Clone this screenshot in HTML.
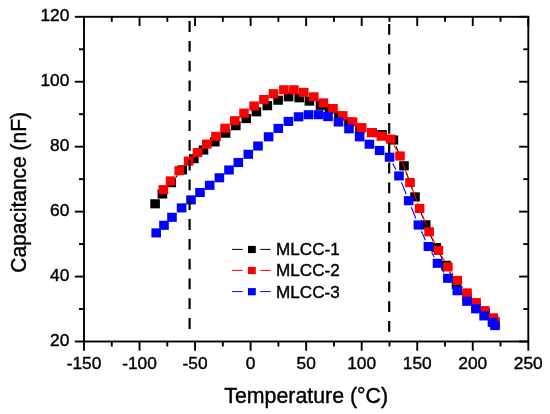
<!DOCTYPE html>
<html><head><meta charset="utf-8"><style>
html,body{margin:0;padding:0;background:#fff;}
svg{display:block;font-family:"Liberation Sans",Arial,sans-serif;}
text{stroke:#000;stroke-width:0.4px;}
</style></head><body>
<svg width="550" height="414" viewBox="0 0 550 414">
<rect width="550" height="414" fill="#fff"/>
<path d="M175.8 177.4L177.6 175.2M187.2 165.0L188.8 163.6M396.1 146.5L401.3 159.3M406.3 172.4L412.7 190.3M417.5 203.4L423.2 218.3M428.6 231.2L433.3 241.2M439.6 253.7L442.6 259.2M449.4 271.4L453.1 278.4M461.0 289.9L462.5 291.6" fill="none" stroke="#000" stroke-width="1.1"/>
<rect x="150.30" y="199.25" width="9.6" height="9.1" fill="#000"/>
<rect x="157.60" y="189.45" width="9.6" height="9.1" fill="#000"/>
<rect x="166.40" y="178.15" width="9.6" height="9.1" fill="#000"/>
<rect x="177.40" y="165.35" width="9.6" height="9.1" fill="#000"/>
<rect x="189.00" y="154.15" width="9.6" height="9.1" fill="#000"/>
<rect x="198.70" y="145.45" width="9.6" height="9.1" fill="#000"/>
<rect x="210.00" y="137.35" width="9.6" height="9.1" fill="#000"/>
<rect x="220.80" y="128.65" width="9.6" height="9.1" fill="#000"/>
<rect x="231.00" y="121.15" width="9.6" height="9.1" fill="#000"/>
<rect x="241.40" y="114.05" width="9.6" height="9.1" fill="#000"/>
<rect x="251.60" y="107.25" width="9.6" height="9.1" fill="#000"/>
<rect x="262.50" y="101.15" width="9.6" height="9.1" fill="#000"/>
<rect x="273.30" y="95.65" width="9.6" height="9.1" fill="#000"/>
<rect x="283.80" y="92.25" width="9.6" height="9.1" fill="#000"/>
<rect x="294.40" y="93.25" width="9.6" height="9.1" fill="#000"/>
<rect x="304.60" y="96.55" width="9.6" height="9.1" fill="#000"/>
<rect x="315.70" y="100.75" width="9.6" height="9.1" fill="#000"/>
<rect x="324.70" y="104.45" width="9.6" height="9.1" fill="#000"/>
<rect x="334.20" y="111.45" width="9.6" height="9.1" fill="#000"/>
<rect x="344.20" y="117.45" width="9.6" height="9.1" fill="#000"/>
<rect x="355.20" y="123.95" width="9.6" height="9.1" fill="#000"/>
<rect x="367.20" y="128.05" width="9.6" height="9.1" fill="#000"/>
<rect x="377.20" y="130.05" width="9.6" height="9.1" fill="#000"/>
<rect x="388.60" y="135.45" width="9.6" height="9.1" fill="#000"/>
<rect x="399.20" y="161.25" width="9.6" height="9.1" fill="#000"/>
<rect x="410.20" y="192.35" width="9.6" height="9.1" fill="#000"/>
<rect x="420.90" y="220.25" width="9.6" height="9.1" fill="#000"/>
<rect x="431.40" y="243.05" width="9.6" height="9.1" fill="#000"/>
<rect x="441.20" y="260.75" width="9.6" height="9.1" fill="#000"/>
<rect x="451.70" y="279.95" width="9.6" height="9.1" fill="#000"/>
<rect x="462.20" y="292.45" width="9.6" height="9.1" fill="#000"/>
<rect x="471.20" y="300.95" width="9.6" height="9.1" fill="#000"/>
<rect x="480.40" y="308.45" width="9.6" height="9.1" fill="#000"/>
<rect x="488.70" y="314.95" width="9.6" height="9.1" fill="#000"/>
<rect x="490.20" y="318.95" width="9.6" height="9.1" fill="#000"/>
<path d="M394.0 145.2L396.6 149.9M402.5 162.6L407.5 176.0M412.4 189.2L417.2 201.9M422.2 215.0L426.5 225.3M432.2 238.1L435.3 244.1M441.9 256.5L444.4 260.8M451.9 272.6L453.3 274.7M461.6 285.9L462.7 287.4" fill="none" stroke="#f00" stroke-width="1.1"/>
<rect x="158.60" y="185.05" width="9.6" height="9.1" fill="#f00"/>
<rect x="165.80" y="176.35" width="9.6" height="9.1" fill="#f00"/>
<rect x="174.40" y="166.15" width="9.6" height="9.1" fill="#f00"/>
<rect x="183.80" y="156.55" width="9.6" height="9.1" fill="#f00"/>
<rect x="192.70" y="148.05" width="9.6" height="9.1" fill="#f00"/>
<rect x="202.00" y="139.55" width="9.6" height="9.1" fill="#f00"/>
<rect x="211.20" y="131.85" width="9.6" height="9.1" fill="#f00"/>
<rect x="220.30" y="123.65" width="9.6" height="9.1" fill="#f00"/>
<rect x="230.00" y="116.15" width="9.6" height="9.1" fill="#f00"/>
<rect x="239.20" y="108.65" width="9.6" height="9.1" fill="#f00"/>
<rect x="249.30" y="101.45" width="9.6" height="9.1" fill="#f00"/>
<rect x="259.10" y="94.95" width="9.6" height="9.1" fill="#f00"/>
<rect x="268.70" y="89.15" width="9.6" height="9.1" fill="#f00"/>
<rect x="279.10" y="85.25" width="9.6" height="9.1" fill="#f00"/>
<rect x="289.10" y="85.25" width="9.6" height="9.1" fill="#f00"/>
<rect x="299.00" y="87.85" width="9.6" height="9.1" fill="#f00"/>
<rect x="309.00" y="92.25" width="9.6" height="9.1" fill="#f00"/>
<rect x="318.60" y="98.35" width="9.6" height="9.1" fill="#f00"/>
<rect x="328.20" y="103.95" width="9.6" height="9.1" fill="#f00"/>
<rect x="338.00" y="111.15" width="9.6" height="9.1" fill="#f00"/>
<rect x="347.70" y="117.35" width="9.6" height="9.1" fill="#f00"/>
<rect x="356.90" y="123.05" width="9.6" height="9.1" fill="#f00"/>
<rect x="366.80" y="128.05" width="9.6" height="9.1" fill="#f00"/>
<rect x="376.50" y="131.65" width="9.6" height="9.1" fill="#f00"/>
<rect x="385.80" y="134.55" width="9.6" height="9.1" fill="#f00"/>
<rect x="395.20" y="151.45" width="9.6" height="9.1" fill="#f00"/>
<rect x="405.20" y="178.05" width="9.6" height="9.1" fill="#f00"/>
<rect x="414.80" y="203.95" width="9.6" height="9.1" fill="#f00"/>
<rect x="424.30" y="227.25" width="9.6" height="9.1" fill="#f00"/>
<rect x="433.60" y="245.85" width="9.6" height="9.1" fill="#f00"/>
<rect x="443.10" y="262.35" width="9.6" height="9.1" fill="#f00"/>
<rect x="452.50" y="275.85" width="9.6" height="9.1" fill="#f00"/>
<rect x="462.20" y="288.35" width="9.6" height="9.1" fill="#f00"/>
<rect x="471.30" y="298.05" width="9.6" height="9.1" fill="#f00"/>
<rect x="479.90" y="306.05" width="9.6" height="9.1" fill="#f00"/>
<rect x="488.40" y="313.25" width="9.6" height="9.1" fill="#f00"/>
<rect x="490.40" y="317.45" width="9.6" height="9.1" fill="#f00"/>
<path d="M392.7 163.5L395.9 169.6M401.5 182.4L406.2 194.2M411.3 207.2L415.8 218.5M421.4 231.3L425.4 240.2M431.7 252.7L434.2 257.1M441.5 269.1L443.9 272.5M452.1 283.9L453.1 285.1" fill="none" stroke="#00f" stroke-width="1.1"/>
<rect x="151.40" y="228.35" width="9.6" height="9.1" fill="#00f"/>
<rect x="159.20" y="220.75" width="9.6" height="9.1" fill="#00f"/>
<rect x="167.20" y="212.75" width="9.6" height="9.1" fill="#00f"/>
<rect x="176.80" y="203.35" width="9.6" height="9.1" fill="#00f"/>
<rect x="186.20" y="195.35" width="9.6" height="9.1" fill="#00f"/>
<rect x="195.20" y="187.95" width="9.6" height="9.1" fill="#00f"/>
<rect x="204.90" y="180.75" width="9.6" height="9.1" fill="#00f"/>
<rect x="214.60" y="173.25" width="9.6" height="9.1" fill="#00f"/>
<rect x="224.20" y="165.45" width="9.6" height="9.1" fill="#00f"/>
<rect x="233.50" y="157.95" width="9.6" height="9.1" fill="#00f"/>
<rect x="243.50" y="149.75" width="9.6" height="9.1" fill="#00f"/>
<rect x="253.20" y="141.45" width="9.6" height="9.1" fill="#00f"/>
<rect x="263.80" y="132.25" width="9.6" height="9.1" fill="#00f"/>
<rect x="273.50" y="123.85" width="9.6" height="9.1" fill="#00f"/>
<rect x="283.60" y="116.85" width="9.6" height="9.1" fill="#00f"/>
<rect x="293.80" y="112.25" width="9.6" height="9.1" fill="#00f"/>
<rect x="303.70" y="110.15" width="9.6" height="9.1" fill="#00f"/>
<rect x="313.80" y="110.15" width="9.6" height="9.1" fill="#00f"/>
<rect x="323.20" y="112.05" width="9.6" height="9.1" fill="#00f"/>
<rect x="333.70" y="117.45" width="9.6" height="9.1" fill="#00f"/>
<rect x="344.20" y="124.25" width="9.6" height="9.1" fill="#00f"/>
<rect x="354.80" y="132.25" width="9.6" height="9.1" fill="#00f"/>
<rect x="364.60" y="139.65" width="9.6" height="9.1" fill="#00f"/>
<rect x="374.80" y="145.95" width="9.6" height="9.1" fill="#00f"/>
<rect x="384.80" y="152.65" width="9.6" height="9.1" fill="#00f"/>
<rect x="394.20" y="171.35" width="9.6" height="9.1" fill="#00f"/>
<rect x="403.90" y="196.15" width="9.6" height="9.1" fill="#00f"/>
<rect x="413.60" y="220.45" width="9.6" height="9.1" fill="#00f"/>
<rect x="423.60" y="241.95" width="9.6" height="9.1" fill="#00f"/>
<rect x="432.70" y="258.75" width="9.6" height="9.1" fill="#00f"/>
<rect x="443.10" y="273.75" width="9.6" height="9.1" fill="#00f"/>
<rect x="452.50" y="286.15" width="9.6" height="9.1" fill="#00f"/>
<rect x="462.20" y="296.75" width="9.6" height="9.1" fill="#00f"/>
<rect x="471.10" y="304.25" width="9.6" height="9.1" fill="#00f"/>
<rect x="479.30" y="311.35" width="9.6" height="9.1" fill="#00f"/>
<rect x="487.70" y="317.85" width="9.6" height="9.1" fill="#00f"/>
<rect x="490.20" y="321.05" width="9.6" height="9.1" fill="#00f"/>
<line x1="189.6" y1="21.1" x2="189.6" y2="330" stroke="#000" stroke-width="2.2" stroke-dasharray="10.8 9.0"/>
<line x1="389.2" y1="24" x2="389.2" y2="332" stroke="#000" stroke-width="2.2" stroke-dasharray="10.8 9.0"/>
<g stroke="#000" stroke-width="1.9"><rect x="84.0" y="16.8" width="444.3" height="324.7" fill="none" stroke="#000" stroke-width="1.9"/>
<line x1="84.00" y1="341.50" x2="84.00" y2="350.70"/>
<line x1="84.00" y1="16.80" x2="84.00" y2="26.00"/>
<line x1="111.77" y1="341.50" x2="111.77" y2="346.50"/>
<line x1="111.77" y1="16.80" x2="111.77" y2="21.80"/>
<line x1="139.54" y1="341.50" x2="139.54" y2="350.70"/>
<line x1="139.54" y1="16.80" x2="139.54" y2="26.00"/>
<line x1="167.31" y1="341.50" x2="167.31" y2="346.50"/>
<line x1="167.31" y1="16.80" x2="167.31" y2="21.80"/>
<line x1="195.07" y1="341.50" x2="195.07" y2="350.70"/>
<line x1="195.07" y1="16.80" x2="195.07" y2="26.00"/>
<line x1="222.84" y1="341.50" x2="222.84" y2="346.50"/>
<line x1="222.84" y1="16.80" x2="222.84" y2="21.80"/>
<line x1="250.61" y1="341.50" x2="250.61" y2="350.70"/>
<line x1="250.61" y1="16.80" x2="250.61" y2="26.00"/>
<line x1="278.38" y1="341.50" x2="278.38" y2="346.50"/>
<line x1="278.38" y1="16.80" x2="278.38" y2="21.80"/>
<line x1="306.15" y1="341.50" x2="306.15" y2="350.70"/>
<line x1="306.15" y1="16.80" x2="306.15" y2="26.00"/>
<line x1="333.92" y1="341.50" x2="333.92" y2="346.50"/>
<line x1="333.92" y1="16.80" x2="333.92" y2="21.80"/>
<line x1="361.69" y1="341.50" x2="361.69" y2="350.70"/>
<line x1="361.69" y1="16.80" x2="361.69" y2="26.00"/>
<line x1="389.46" y1="341.50" x2="389.46" y2="346.50"/>
<line x1="389.46" y1="16.80" x2="389.46" y2="21.80"/>
<line x1="417.23" y1="341.50" x2="417.23" y2="350.70"/>
<line x1="417.23" y1="16.80" x2="417.23" y2="26.00"/>
<line x1="444.99" y1="341.50" x2="444.99" y2="346.50"/>
<line x1="444.99" y1="16.80" x2="444.99" y2="21.80"/>
<line x1="472.76" y1="341.50" x2="472.76" y2="350.70"/>
<line x1="472.76" y1="16.80" x2="472.76" y2="26.00"/>
<line x1="500.53" y1="341.50" x2="500.53" y2="346.50"/>
<line x1="500.53" y1="16.80" x2="500.53" y2="21.80"/>
<line x1="528.30" y1="341.50" x2="528.30" y2="350.70"/>
<line x1="528.30" y1="16.80" x2="528.30" y2="26.00"/>
<line x1="84.00" y1="341.50" x2="74.80" y2="341.50"/>
<line x1="528.30" y1="341.50" x2="519.10" y2="341.50"/>
<line x1="84.00" y1="309.03" x2="79.00" y2="309.03"/>
<line x1="528.30" y1="309.03" x2="523.30" y2="309.03"/>
<line x1="84.00" y1="276.56" x2="74.80" y2="276.56"/>
<line x1="528.30" y1="276.56" x2="519.10" y2="276.56"/>
<line x1="84.00" y1="244.09" x2="79.00" y2="244.09"/>
<line x1="528.30" y1="244.09" x2="523.30" y2="244.09"/>
<line x1="84.00" y1="211.62" x2="74.80" y2="211.62"/>
<line x1="528.30" y1="211.62" x2="519.10" y2="211.62"/>
<line x1="84.00" y1="179.15" x2="79.00" y2="179.15"/>
<line x1="528.30" y1="179.15" x2="523.30" y2="179.15"/>
<line x1="84.00" y1="146.68" x2="74.80" y2="146.68"/>
<line x1="528.30" y1="146.68" x2="519.10" y2="146.68"/>
<line x1="84.00" y1="114.21" x2="79.00" y2="114.21"/>
<line x1="528.30" y1="114.21" x2="523.30" y2="114.21"/>
<line x1="84.00" y1="81.74" x2="74.80" y2="81.74"/>
<line x1="528.30" y1="81.74" x2="519.10" y2="81.74"/>
<line x1="84.00" y1="49.27" x2="79.00" y2="49.27"/>
<line x1="528.30" y1="49.27" x2="523.30" y2="49.27"/>
<line x1="84.00" y1="16.80" x2="74.80" y2="16.80"/>
<line x1="528.30" y1="16.80" x2="519.10" y2="16.80"/></g>
<g font-size="17.33" fill="#000"><text x="84.00" y="369.3" text-anchor="middle">-150</text>
<text x="139.54" y="369.3" text-anchor="middle">-100</text>
<text x="195.07" y="369.3" text-anchor="middle">-50</text>
<text x="250.61" y="369.3" text-anchor="middle">0</text>
<text x="306.15" y="369.3" text-anchor="middle">50</text>
<text x="361.69" y="369.3" text-anchor="middle">100</text>
<text x="417.23" y="369.3" text-anchor="middle">150</text>
<text x="472.76" y="369.3" text-anchor="middle">200</text>
<text x="528.30" y="369.3" text-anchor="middle">250</text>
<text x="69.4" y="345.80" text-anchor="end">20</text>
<text x="69.4" y="280.86" text-anchor="end">40</text>
<text x="69.4" y="215.92" text-anchor="end">60</text>
<text x="69.4" y="150.98" text-anchor="end">80</text>
<text x="69.4" y="86.04" text-anchor="end">100</text>
<text x="69.4" y="21.10" text-anchor="end">120</text></g>
<text x="306.2" y="402.9" font-size="21.33" text-anchor="middle">Temperature (°C)</text>
<text transform="translate(25.8 192.4) rotate(-90) scale(0.983 1)" font-size="21.33" text-anchor="middle">Capacitance (nF)</text>
<line x1="232" y1="249.4" x2="242.7" y2="249.4" stroke="#000" stroke-width="1"/>
<line x1="260.2" y1="249.4" x2="270.7" y2="249.4" stroke="#000" stroke-width="1"/>
<rect x="248.0" y="245.9" width="7.8" height="7.2" fill="#000"/>
<text x="276.1" y="255.3" font-size="17.1">MLCC-1</text>
<line x1="232" y1="270.4" x2="242.7" y2="270.4" stroke="#f00" stroke-width="1"/>
<line x1="260.2" y1="270.4" x2="270.7" y2="270.4" stroke="#f00" stroke-width="1"/>
<rect x="248.0" y="266.9" width="7.8" height="7.2" fill="#f00"/>
<text x="276.1" y="276.3" font-size="17.1">MLCC-2</text>
<line x1="232" y1="291.6" x2="242.7" y2="291.6" stroke="#00f" stroke-width="1"/>
<line x1="260.2" y1="291.6" x2="270.7" y2="291.6" stroke="#00f" stroke-width="1"/>
<rect x="248.0" y="288.1" width="7.8" height="7.2" fill="#00f"/>
<text x="276.1" y="297.5" font-size="17.1">MLCC-3</text>
</svg>
</body></html>
